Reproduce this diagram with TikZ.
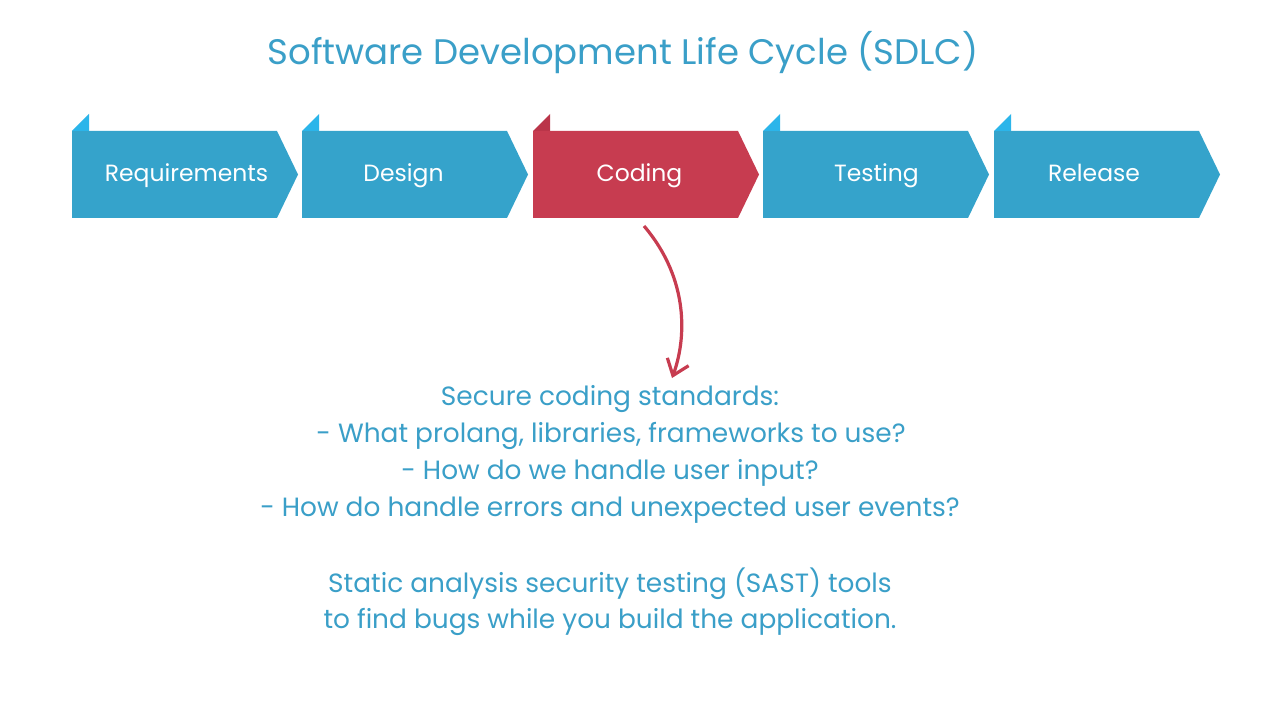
\documentclass[tikz,border=0pt]{standalone}
\usepackage{fontspec}
\setmainfont{Poppins}
\usetikzlibrary{arrows.meta}
\definecolor{sblue}{HTML}{35A3CB}
\definecolor{sbluefold}{HTML}{2BB5EA}
\definecolor{sred}{HTML}{C73C50}
\definecolor{sredfold}{HTML}{BA3549}
\definecolor{stext}{HTML}{3A9FC8}
\tikzset{
  lbl/.style={text=white,font=\fontsize{17.6}{21}\selectfont,anchor=base,inner sep=0pt},
  body/.style={text=stext,font=\fontsize{19.8}{24}\selectfont,anchor=base,inner sep=0pt},
  ttl/.style={text=stext,font=\fontsize{26.6}{30}\selectfont,anchor=base,inner sep=0pt},
}
\newcommand{\phase}[4]{% x0, fill, fold
  \fill[#2] (#1,131) -- ++(205,0) -- ++(21,43.5) -- ++(-21,43.5) -- ++(-205,0) -- cycle;
  \fill[#3] (#1,131) -- ++(17,-17) -- ++(0,17) -- cycle;
}
\begin{document}
\begin{tikzpicture}[x=0.75pt,y=-0.75pt]
\useasboundingbox (0,0) rectangle (1280,720);
\fill[white] (0,0) rectangle (1280,720);
\node[ttl] (title) at (623,65) {Software Development Life Cycle (SDLC)};
\phase{72}{sblue}{sbluefold}{}
\phase{302}{sblue}{sbluefold}{}
\phase{533}{sred}{sredfold}{}
\phase{763}{sblue}{sbluefold}{}
\phase{994}{sblue}{sbluefold}{}
\node[lbl] (req) at (186.5,182) {Requirements};
\node[lbl] (des) at (403.5,182) {Design};
\node[lbl] (cod) at (639.5,182) {Coding};
\node[lbl] (tes) at (876.5,182) {Testing};
\node[lbl] (rel) at (1094,182) {Release};
\node[body] (s1) at (610,405) {Secure coding standards:};
\node[body] (s2) at (611,442) {- What prolang, libraries, frameworks to use?};
\node[body] (s3) at (610,479) {- How do we handle user input?};
\node[body] (s4) at (610,516) {- How do handle errors and unexpected user events?};
\node[body] (t1) at (610,592.5) {Static analysis security testing (SAST) tools};
\node[body] (t2) at (610,628.5) {to find bugs while you build the application.};
\coordinate (cstart) at (644,226);
\coordinate (cend) at (672,378);
\draw[sred,line width=2.4pt,-{Straight Barb[length=11pt,width=17pt,line width=2.4pt]}]
  (cstart) .. controls (690,280) and (686,340) .. (cend);
\end{tikzpicture}
\end{document}
